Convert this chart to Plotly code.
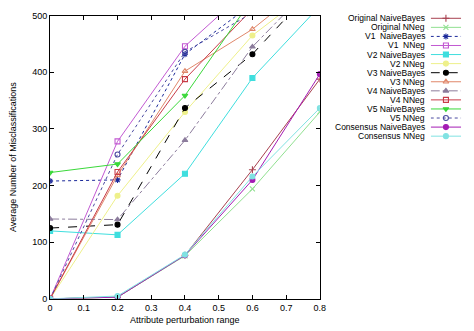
import plotly.graph_objects as go

W, H = 474, 331

x_vals = [0, 0.2, 0.4, 0.6, 0.8]

series_names = [
    "Original NaiveBayes", "Original NNeg",
    "V1  NaiveBayes", "V1  NNeg",
    "V2 NaiveBayes", "V2 NNeg",
    "V3 NaiveBayes", "V3 NNeg",
    "V4 NaiveBayes", "V4 NNeg",
    "V5 NaiveBayes", "V5 NNeg",
    "Consensus NaiveBayes", "Consensus NNeg",
]

orig_nb = [0, 3, 77, 228, 388]
orig_nneg = [0, 3, 76, 194, 330]
v1_nb = [208, 210, 432, 520, 610]
v1_nneg = [0, 278, 446, 554, 650]
v2_nb = [120, 113, 221, 390, 517]
v2_nneg = [0, 182, 330, 465, 556]
v3_nb = [125, 131, 337, 432, 560]
v3_nneg = [0, 218, 402, 476, 572]
v4_nb = [141, 140, 280, 445, 567]
v4_nneg = [0, 224, 388, 512, 620]
v5_nb = [223, 238, 359, 530, 640]
v5_nneg = [0, 255, 436, 505, 600]
cons_nb = [0, 3, 77, 210, 397]
cons_nneg = [0, 5, 78, 216, 337]

series_values = [orig_nb, orig_nneg, v1_nb, v1_nneg, v2_nb, v2_nneg, v3_nb,
                 v3_nneg, v4_nb, v4_nneg, v5_nb, v5_nneg, cons_nb, cons_nneg]

x_ticks = [0, 0.1, 0.2, 0.3, 0.4, 0.5, 0.6, 0.7, 0.8]
x_tick_labels = ["0", "0.1", "0.2", "0.3", "0.4", "0.5", "0.6", "0.7", "0.8"]
y_ticks = [0, 100, 200, 300, 400, 500]
y_tick_labels = ["0", "100", "200", "300", "400", "500"]

# styles: (color, dash, marker symbol)
styles = [
    ("#a8404f", "solid", "cross-thin"),
    ("#90e090", "solid", "x-thin"),
    ("#1c2a9a", "dot", "asterisk"),
    ("#c25ad2", "solid", "square-open"),
    ("#3fdede", "solid", "square"),
    ("#eef08a", "solid", "circle"),
    ("#000000", "dash", "circle"),
    ("#e0876a", "solid", "triangle-up-open"),
    ("#8c7c9c", "dashdot", "triangle-up"),
    ("#c83c48", "solid", "square-open"),
    ("#3ad83a", "solid", "triangle-down"),
    ("#4a4aa0", "dot", "circle-open"),
    ("#a41cb4", "solid", "circle"),
    ("#80e2e2", "solid", "circle"),
]

FONT = "Liberation Sans, Arial"

fig = go.Figure()

for name, vals, (col, dash, sym) in zip(series_names, series_values, styles):
    fig.add_trace(go.Scatter(
        x=x_vals, y=vals, mode="lines+markers", name=name,
        line=dict(color=col, width=1, dash=dash),
        marker=dict(symbol=sym, size=5, color=col,
                    line=dict(color=col, width=1.1)),
        xaxis="x", yaxis="y", showlegend=False,
    ))

# manual legend: text on the left, sample on the right
row0, row_step = 13.7, 9.35
annotations = []
for i, (name, (col, dash, sym)) in enumerate(zip(series_names, styles)):
    ry = row0 + row_step * i
    fig.add_trace(go.Scatter(
        x=[0, 0.5, 1], y=[ry, ry, ry], mode="lines",
        line=dict(color=col, width=1, dash=dash),
        xaxis="x2", yaxis="y2", showlegend=False, hoverinfo="skip",
    ))
    fig.add_trace(go.Scatter(
        x=[0.5], y=[ry], mode="markers",
        marker=dict(symbol=sym, size=5, color=col, line=dict(color=col, width=1.1)),
        xaxis="x2", yaxis="y2", showlegend=False, hoverinfo="skip",
    ))
    annotations.append(dict(
        text=name, xref="paper", yref="y2", x=432 / W, y=ry,
        xanchor="right", yanchor="middle", showarrow=False,
        font=dict(family=FONT, size=8.5, color="#000000"),
    ))

# axis titles
annotations.append(dict(
    text="Average Number of Misclassifications", xref="paper", yref="paper",
    x=10 / W, y=1 - 157 / H, textangle=-90, showarrow=False,
    xanchor="center", yanchor="middle",
    font=dict(family=FONT, size=9, color="#000000"),
))
annotations.append(dict(
    text="Attribute perturbation range", xref="paper", yref="paper",
    x=186 / W, y=1 - 325 / H, showarrow=False,
    xanchor="center", yanchor="middle",
    font=dict(family=FONT, size=9, color="#000000"),
))

axis_common = dict(
    showgrid=False, zeroline=False, showline=True, linecolor="#000000",
    linewidth=1, mirror="allticks", ticks="inside", ticklen=4,
    tickcolor="#000000", tickwidth=1,
    tickfont=dict(family=FONT, size=9, color="#000000"),
)

fig.update_layout(
    width=W, height=H,
    margin=dict(l=0, r=0, t=0, b=0),
    paper_bgcolor="#ffffff", plot_bgcolor="#ffffff",
    showlegend=False,
    annotations=annotations,
    xaxis=dict(domain=[48 / W, 323 / W], range=[0, 0.8],
               tickvals=x_ticks, ticktext=x_tick_labels, anchor="y",
               **axis_common),
    yaxis=dict(domain=[1 - 303 / H, 1 - 11 / H], range=[0, 500],
               tickvals=y_ticks, ticktext=y_tick_labels, anchor="x",
               **axis_common),
    xaxis2=dict(domain=[436 / W, 467 / W], range=[0, 1], visible=False,
                anchor="y2", fixedrange=True),
    yaxis2=dict(domain=[0, 1], range=[H, 0], visible=False,
                anchor="x2", fixedrange=True),
)

fig.write_html("out.html")
